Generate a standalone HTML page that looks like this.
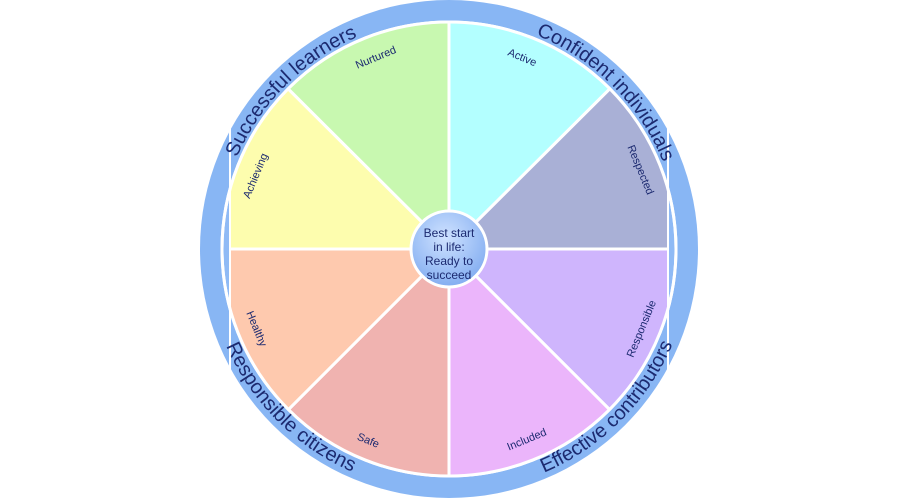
<!DOCTYPE html>
<html><head><meta charset="utf-8"><style>
html,body{margin:0;padding:0;background:#fff;}
svg{display:block;font-family:"Liberation Sans",sans-serif;}
</style></head><body>
<svg width="900" height="500" viewBox="0 0 900 500">
<defs>
<clipPath id="strip"><rect x="230" y="0" width="438" height="500"/></clipPath>
<clipPath id="circ"><circle cx="449" cy="249" r="226"/></clipPath>
<radialGradient id="cg" cx="45%" cy="35%" r="70%">
<stop offset="0" stop-color="#cfe2ff"/><stop offset="1" stop-color="#7eaaf0"/>
</radialGradient>
<path id="top" d="M218,249 A231,231 0 0 1 680,249"/>
<path id="bot" d="M206,249 A243,243 0 0 0 692,249"/>
</defs>
<circle cx="449" cy="249" r="249" fill="#88b6f4"/>
<circle cx="449" cy="249" r="227" fill="#8fbaf5" stroke="#fff" stroke-width="3"/>
<g clip-path="url(#circ)">
<g clip-path="url(#strip)">
<g stroke="#fff" stroke-width="3">
<path d="M449,249 L449,0 L699,0 Z" fill="#b3ffff"/>
<path d="M449,249 L699,0 L699,249 Z" fill="#a9b0d6"/>
<path d="M449,249 L699,249 L699,499 Z" fill="#cfb5fd"/>
<path d="M449,249 L699,499 L449,499 Z" fill="#ebb5fb"/>
<path d="M449,249 L449,499 L199,499 Z" fill="#f0b3b0"/>
<path d="M449,249 L199,499 L199,249 Z" fill="#fec9ae"/>
<path d="M449,249 L199,249 L199,0 Z" fill="#fdfdae"/>
<path d="M449,249 L199,0 L449,0 Z" fill="#c8f8b0"/>
</g>
</g>
</g>
<circle cx="449" cy="249" r="227" fill="none" stroke="#fff" stroke-width="3"/>
<rect x="229" y="92" width="2" height="314" fill="#fff"/>
<rect x="667" y="92" width="2" height="314" fill="#fff"/>
<circle cx="449" cy="249" r="38" fill="url(#cg)" stroke="#fff" stroke-width="3"/>
<g fill="#1c2a70" font-size="12" text-anchor="middle">
<text x="449" y="237">Best start</text>
<text x="449" y="251">in life:</text>
<text x="449" y="265">Ready to</text>
<text x="449" y="279">succeed</text>
</g>
<g fill="#1c2a70" font-size="20" text-anchor="middle">
<text><textPath href="#top" startOffset="25%">Successful learners</textPath></text>
<text><textPath href="#top" startOffset="75%">Confident individuals</textPath></text>
<text><textPath href="#bot" startOffset="25%">Responsible citizens</textPath></text>
<text><textPath href="#bot" startOffset="75%">Effective contributors</textPath></text>
</g>
<g fill="#1c2a70" font-size="11" text-anchor="middle" dominant-baseline="middle">
<text transform="translate(376,58) rotate(-22.5)">Nurtured</text>
<text transform="translate(522,58) rotate(22.5)">Active</text>
<text transform="translate(640,170) rotate(67.5)">Respected</text>
<text transform="translate(642,329) rotate(-67.5)">Responsible</text>
<text transform="translate(527,440) rotate(-22.5)">Included</text>
<text transform="translate(368,441) rotate(22.5)">Safe</text>
<text transform="translate(256,329) rotate(67.5)">Healthy</text>
<text transform="translate(256,176) rotate(-67.5)">Achieving</text>
</g>
</svg>
</body></html>
